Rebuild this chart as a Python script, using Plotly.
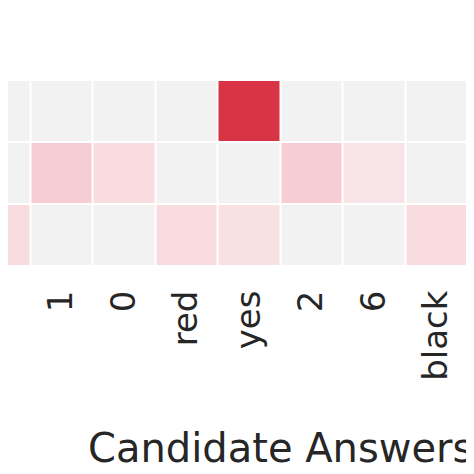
import plotly.graph_objects as go

# candidate answer columns (first and last are cut off by the frame)
answers = ["none", "1", "0", "red", "yes", "2", "6", "black", "no"]
rows = ["q1", "q2", "q3"]
scores = [
    [0.0, 0.0, 0.0, 0.0, 1.0, 0.0, 0.0, 0.0, 0.0],
    [0.0, 0.2, 0.12, 0.0, 0.0, 0.2, 0.08, 0.0, 0.1],
    [0.12, 0.0, 0.0, 0.12, 0.1, 0.0, 0.0, 0.12, 0.0],
]

xs = list(range(-1, len(answers) - 1))

fig = go.Figure(go.Heatmap(
    z=scores, x=xs, y=list(range(len(rows))),
    colorscale=[[0, "#f2f2f2"], [0.1, "#f9e0e3"], [0.2, "#f6cdd3"], [1, "#d93445"]],
    zmin=0, zmax=1, xgap=2, ygap=2, showscale=False,
))

fig.update_layout(
    width=474, height=474,
    margin=dict(l=0, r=0, t=72, b=216),
    plot_bgcolor="white", paper_bgcolor="white",
    font=dict(family="DejaVu Sans", color="#262626"),
    xaxis=dict(range=[-0.852, 6.732], tickmode="array", tickvals=xs[1:],
               ticktext=answers[1:], tickangle=-90, tickfont=dict(size=34),
               ticks="outside", ticklen=10, tickcolor="white", automargin=False,
               showgrid=False, zeroline=False),
    yaxis=dict(range=[2.5, -0.5], showticklabels=False, showgrid=False,
               zeroline=False, automargin=False),
    annotations=[
        dict(x=-1, y=0, xref="x", yref="paper", yshift=-14, text=answers[0],
             textangle=-90, showarrow=False, yanchor="top", font=dict(size=34)),
        dict(x=0.574, y=-0.978, xref="paper", yref="paper", text="Candidate Answers",
             showarrow=False, font=dict(size=40), yanchor="middle"),
    ],
)

fig.write_html("out.html")
